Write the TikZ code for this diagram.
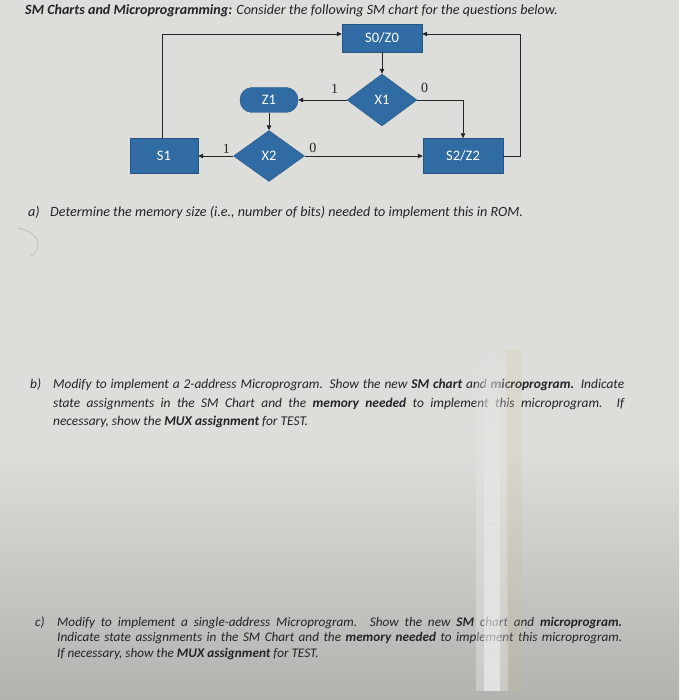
\documentclass[tikz,border=0pt]{standalone}
\usepackage{fontspec}
\setmainfont{Carlito}
\newfontfamily\labelfont{Liberation Serif}
\usetikzlibrary{arrows.meta, positioning, shapes.geometric}

\definecolor{smblue}{RGB}{48,108,163}
\definecolor{smedge}{RGB}{36,86,132}
\definecolor{paper}{RGB}{221,222,218}
\definecolor{paperlow}{RGB}{178,179,174}
\definecolor{glint}{RGB}{205,188,150}
\definecolor{ink}{RGB}{35,35,40}

\tikzset{
  smbox/.style={rectangle, draw=smedge, fill=smblue, text=white, inner sep=0pt,
    font=\fontsize{14.5}{16}\selectfont},
  smcond/.style={diamond, draw=smedge, fill=smblue, text=white, inner sep=0pt,
    font=\fontsize{14.5}{16}\selectfont},
  smout/.style={rectangle, rounded corners=12pt, draw=smedge, fill=smblue, text=white,
    inner sep=0pt, minimum width=58pt, minimum height=25pt, font=\fontsize{14.5}{16}\selectfont},
  flow/.style={-{Triangle[length=5pt,width=4.5pt]}, draw=ink, line width=0.8pt},
  brlbl/.style={font=\labelfont\fontsize{14}{15}\selectfont, text=ink, inner sep=2.5pt},
  qtext/.style={font=\fontsize{14.1}{17}\selectfont\itshape, text=ink, inner sep=0pt, anchor=base west},
  qbline/.style={qtext, font=\fontsize{13.4}{16}\selectfont\itshape},
  qcline/.style={qtext, font=\fontsize{13.2}{16}\selectfont\itshape}
}

\begin{document}
\begin{tikzpicture}[x=1pt, y=-1pt]
  % photographed page
  \fill[paper] (0,0) rectangle (679,451);
  \shade[top color=paper, bottom color=paperlow] (0,450) rectangle (679,700);
  \useasboundingbox (0,0) rectangle (679,700);

  % title line
  \node[qtext] (title) at (25,15)
    {\textbf{SM Charts and Microprogramming:} Consider the following SM chart for the questions below.};

  % SM chart
  \node[smbox, minimum width=80pt, minimum height=28pt] (s0) at (382,38) {S0/Z0};
  \node[smcond, minimum width=70pt, minimum height=52pt] (x1) at (382,100) {X1};
  \node[smout] (z1) at (269,100) {Z1};
  \node[smcond, minimum width=71pt, minimum height=51pt] (x2) at (269,156) {X2};
  \node[smbox, minimum width=68pt, minimum height=35pt] (s1) at (164,156) {S1};
  \node[smbox, minimum width=80pt, minimum height=35pt] (s2) at (463,156) {S2/Z2};
  \coordinate (back) at (520,34);

  \draw[flow] (s0) -- (x1);
  \draw[flow] (x1.west) -- node[brlbl, pos=0.25, above=4pt] {1} (z1.east);
  \draw[flow] (x1.east) -| node[brlbl, pos=0.08, above=4pt] {0} (s2.north);
  \draw[flow] (z1) -- (x2);
  \draw[flow] (x2.west) -- node[brlbl, pos=0.2, above] {1} (s1.east);
  \draw[flow] (x2.east) -- node[brlbl, pos=0.07, above] {0} (s2.west);
  \draw[flow] ([xshift=-2pt]s1.north) |- ([yshift=4pt]s0.west);
  \draw[flow] (s2.east) -| (back) -- ([yshift=4pt]s0.east);

  % question a
  \node[qtext] (qa) at (28,217) {a)};
  \node[qtext] (qa1) at (50,217)
    {Determine the memory size (i.e., number of bits) needed to implement this in ROM.};
  \draw[gray!60, line width=0.5pt] (18,228) .. controls (42,233) and (42,250) .. (31,256);

  % question b
  \node[qbline] (qb) at (30,388.5) {b)};
  \node[qbline] (qb1) at (53,388.5)
    {\makebox[571pt][s]{Modify to implement a 2-address Microprogram. Show the new \textbf{SM chart} and \textbf{microprogram.} Indicate}};
  \node[qbline] (qb2) at (53,407)
    {\makebox[571pt][s]{state assignments in the SM Chart and the \textbf{memory needed} to implement this microprogram. If}};
  \node[qbline] (qb3) at (53,425.5) {necessary, show the \textbf{MUX assignment} for TEST.};

  % question c
  \node[qcline] (qc) at (35,626) {c)};
  \node[qcline] (qc1) at (57,626)
    {\makebox[565pt][s]{Modify to implement a single-address Microprogram. Show the new \textbf{SM} chart and \textbf{microprogram.}}};
  \node[qcline] (qc2) at (57,641.5)
    {\makebox[565pt][s]{Indicate state assignments in the SM Chart and the \textbf{memory needed} to implement this microprogram.}};
  \node[qcline] (qc3) at (57,657) {If necessary, show the \textbf{MUX assignment} for TEST.};

  % glare of the photo
  \shade[top color=paper, bottom color=white, opacity=0.3] (476,330) rectangle (508,690);
  \shade[top color=paper, bottom color=white, opacity=0.45] (484,330) rectangle (500,690);
  \fill[glint, opacity=0.18] (506,350) rectangle (522,690);
\end{tikzpicture}
\end{document}
